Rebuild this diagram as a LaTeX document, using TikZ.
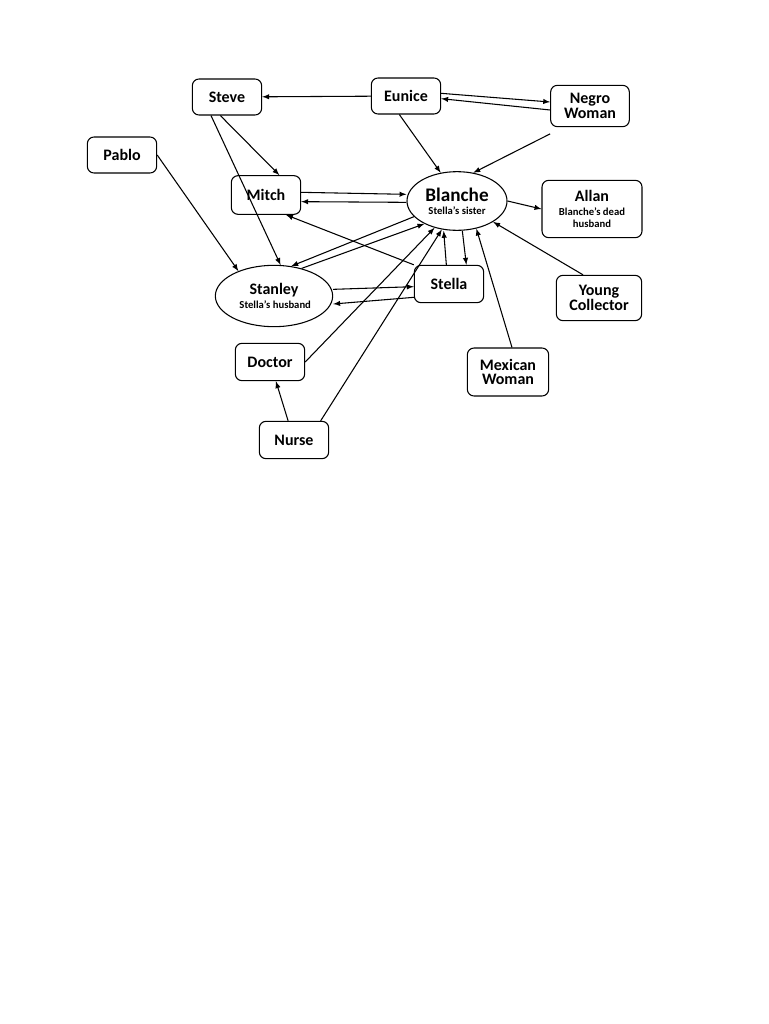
\documentclass[tikz,border=0pt]{standalone}
\usepackage{fontspec}
\setmainfont{Carlito}
\usetikzlibrary{shapes.geometric}
\tikzset{
	person/.style={draw, thick, rounded corners=5pt, align=center, font=\bfseries\large, minimum width=52pt, minimum height=27pt, inner sep=2pt},
	main/.style={draw, thick, ellipse, align=center, inner sep=0pt},
	rel/.style={->, >=latex, thick}
}
\begin{document}
\begin{tikzpicture}[x=0.75pt, y=-0.75pt]
	\useasboundingbox (0,0) rectangle (768,1024);
	% characters
	\node[person] (steve) at (227,97) {Steve};
	\node[person] (eunice) at (406,96) {Eunice};
	\node[person, minimum width=59pt, minimum height=31pt] (negro) at (590,106) {Negro\\[-3pt]Woman};
	\node[person] (pablo) at (122,155) {Pablo};
	\node[person, minimum height=29pt] (mitch) at (266,195) {Mitch};
	\node[main, minimum width=75pt, minimum height=44pt] (blanche) at (457,201) {{\bfseries\Large Blanche}\\[-2pt]{\bfseries\footnotesize Stella’s sister}};
	\node[person, minimum width=75pt, minimum height=43pt] (allan) at (592,209) {Allan\\[-4pt]{\footnotesize Blanche’s dead}\\[-5pt]{\footnotesize husband}};
	\node[main, minimum width=88pt, minimum height=46pt] (stanley) at (274,296) {{\bfseries\large Stanley}\\[-1pt]{\bfseries\footnotesize \ Stella’s husband}};
	\node[person, minimum height=28pt] (stella) at (449,284) {Stella};
	\node[person, minimum width=64pt, minimum height=34pt] (young) at (599,298) {Young\\[-3pt]Collector};
	\node[person, minimum height=28pt] (doctor) at (270,362) {Doctor};
	\node[person, minimum width=61pt, minimum height=36pt] (mexican) at (508,372) {Mexican\\[-3pt]Woman};
	\node[person, minimum height=28pt] (nurse) at (294,440) {Nurse};

	% top row
	\draw[rel] (eunice) -- (steve);
	\draw[rel] ([yshift=2pt]eunice.east) -- ([yshift=3pt]negro.west);
	\draw[rel] ([yshift=-3pt]negro.west) -- ([yshift=-2pt]eunice.east);
	\draw[rel] ([xshift=-5pt]eunice.south) -- (blanche.120);
	\draw[rel] ([yshift=-5pt]negro.south west) -- (blanche.60);
	\draw[rel] ([xshift=-5pt]steve.south) -- ([xshift=10pt]mitch.north);
	\draw[rel] ([xshift=-12pt]steve.south) -- (stanley.78);
	\draw[rel] (pablo.east) -- (stanley.145);

	% around Blanche
	\draw[rel] ([yshift=2pt]mitch.east) -- ([yshift=5pt]blanche.west);
	\draw[rel] ([yshift=-1pt]blanche.west) -- ([yshift=-5pt]mitch.east);
	\draw[rel] (stella.north west) -- ([xshift=15pt]mitch.south);
	\draw[rel] (blanche.200) -- (stanley.60);
	\draw[rel] (stanley.45) -- (blanche.215);
	\draw[rel] ([yshift=5pt]stanley.east) -- ([yshift=-2pt]stella.west);
	\draw[rel] ([yshift=-10pt]stella.west) -- ([yshift=-6pt]stanley.east);
	\draw[rel] (doctor.east) -- (blanche.230);
	\draw[rel] ([xshift=20pt]nurse.north) -- (blanche.242);
	\draw[rel] (nurse) -- (doctor);
	\draw[rel] ([xshift=-2pt]stella.north) -- ([xshift=-10pt]blanche.south);
	\draw[rel] ([xshift=4pt]blanche.south) -- ([xshift=13pt]stella.north);
	\draw[rel] ([xshift=3pt]mexican.north) -- (blanche.305);
	\draw[rel] ([xshift=-12pt]young.north) -- (blanche.330);
	\draw[rel] (blanche.east) -- (allan.west);
\end{tikzpicture}
\end{document}
